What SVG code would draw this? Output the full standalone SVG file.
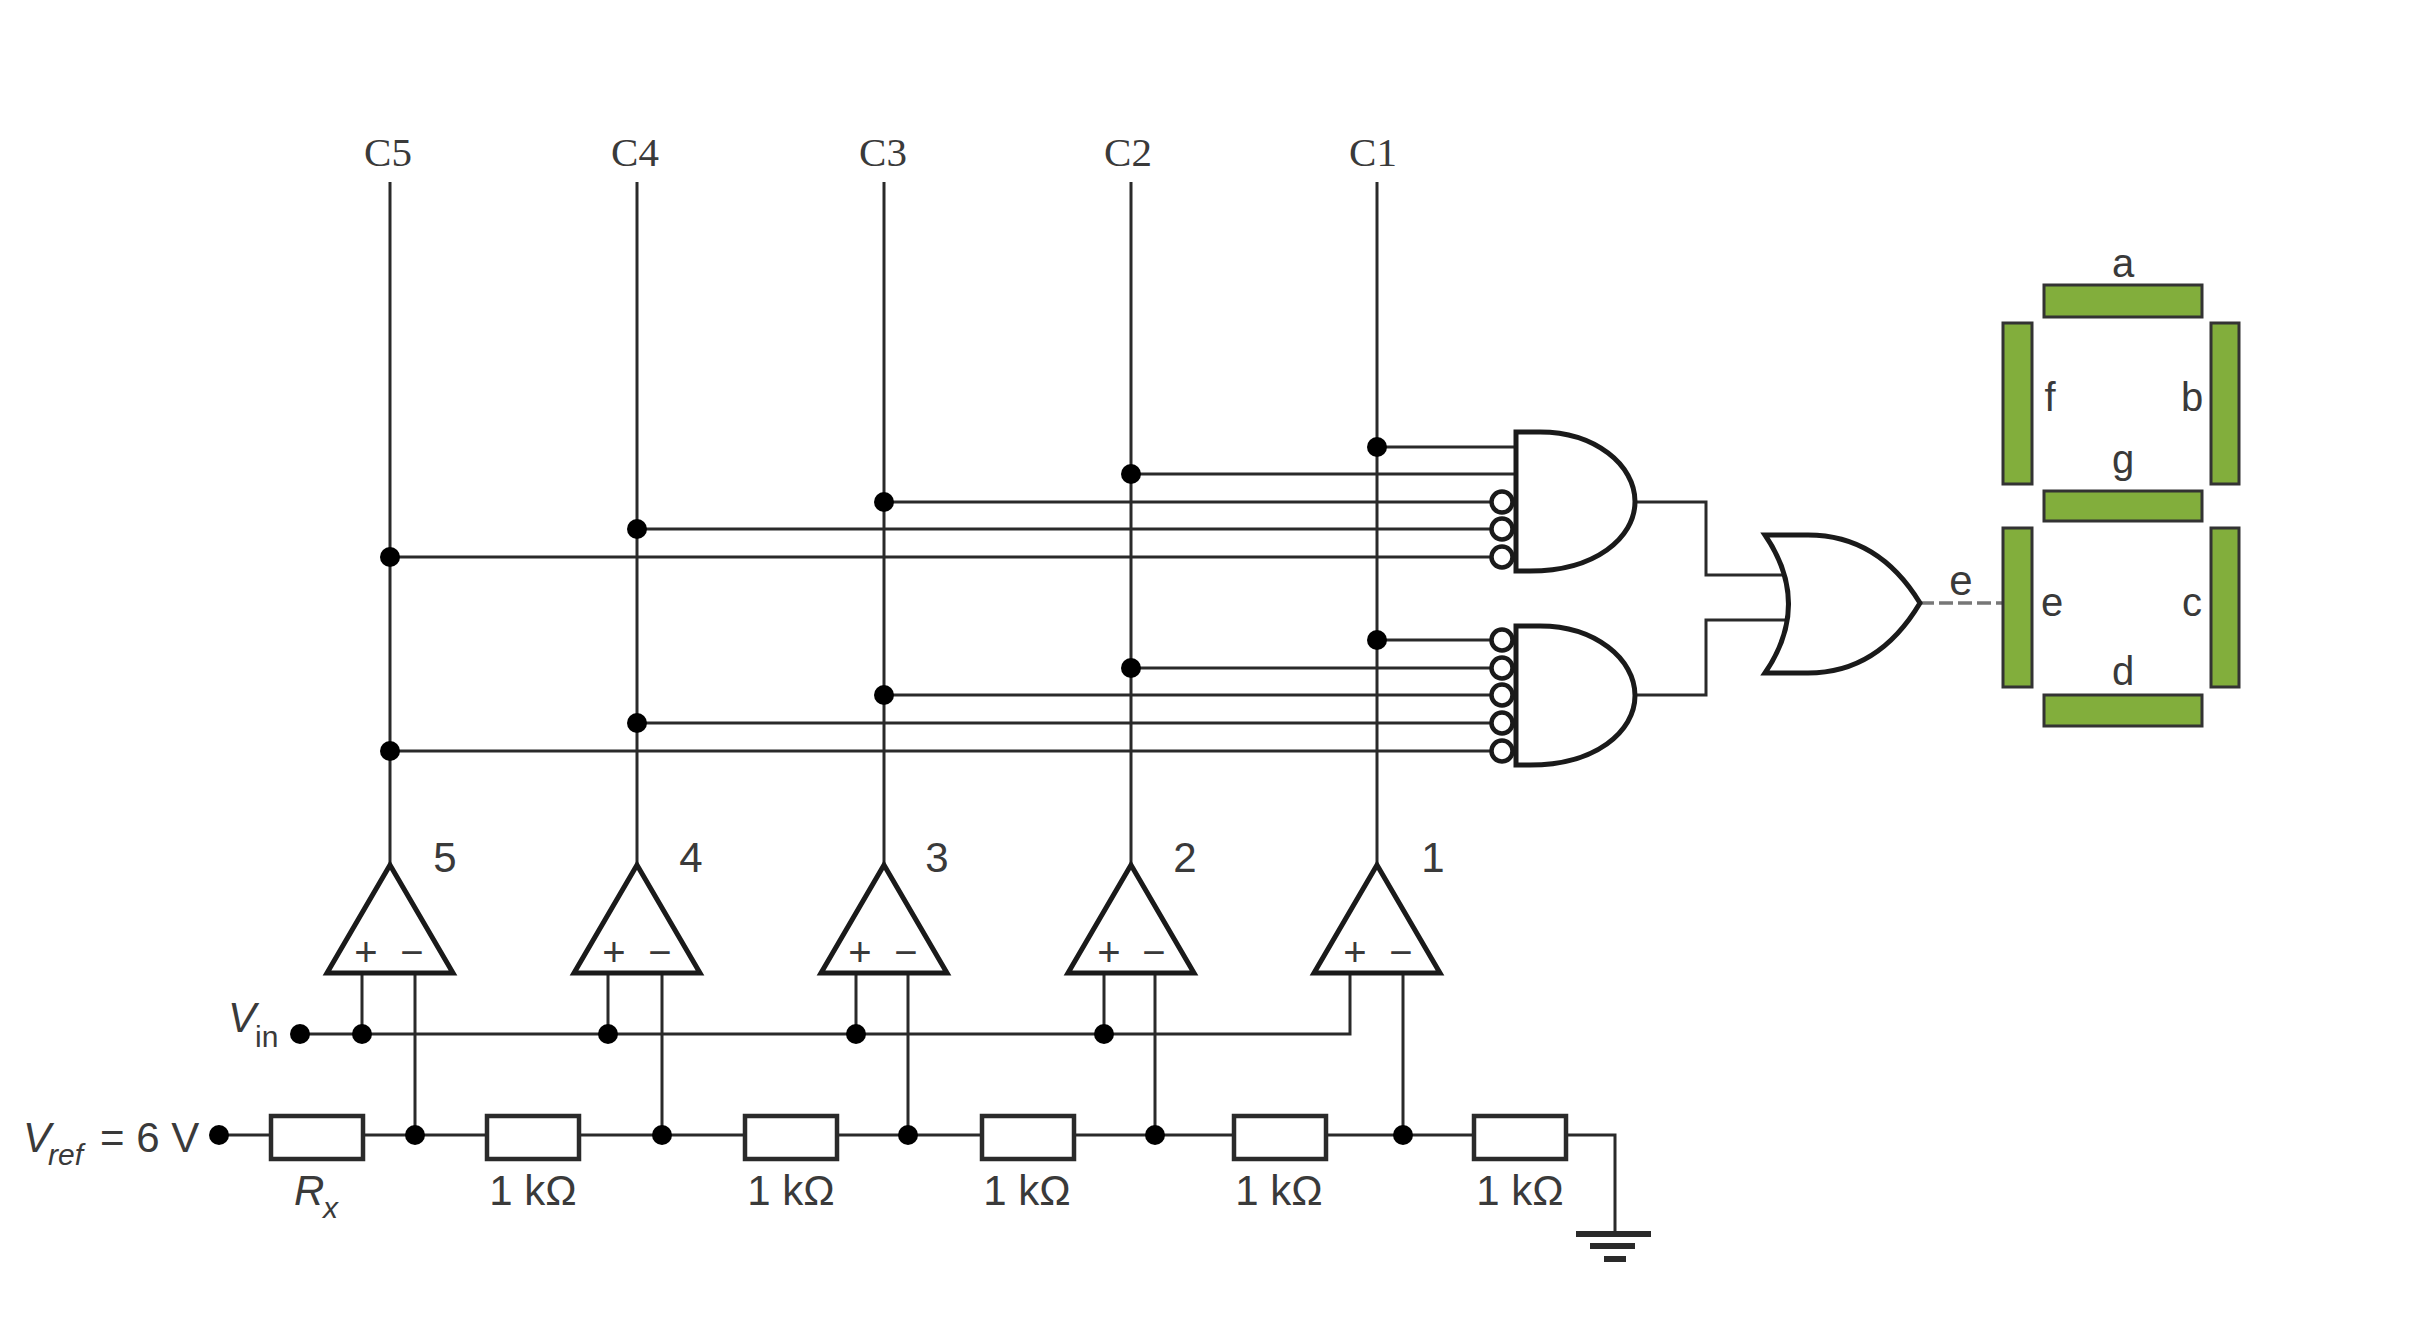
<svg xmlns="http://www.w3.org/2000/svg" width="2420" height="1332" viewBox="0 0 2420 1332">
<style>
.w{fill:none;stroke:#2a2a2a;stroke-width:3}
.g{fill:#fff;stroke:#1a1a1a;stroke-width:5;stroke-linejoin:miter}
.r{fill:#fff;stroke:#2a2a2a;stroke-width:4.500}
.b{fill:#fff;stroke:#1a1a1a;stroke-width:4.500}
.d{fill:#000}
.s{fill:#82ae3c;stroke:#333;stroke-width:3}
text{font-family:"Liberation Sans",Arial,sans-serif;font-size:42px;fill:#3a3a3a;text-anchor:middle}
.c{font-family:"Liberation Serif","Times New Roman",serif;font-size:41px}
.i{font-style:italic}
.l{text-anchor:start}
.sm{font-size:30px}
.sg{font-size:40px}
.sign{font-size:40px}
</style>
<defs>
<path id="andShape" class="g" d="M0 0H24C79 0 119 33 119 69.500C119 106 79 139 14 139H0Z"/>
<circle id="bub" class="b" r="10.500"/>
<circle id="dot" class="d" r="10"/>
<rect id="res" class="r" x="0" y="0" width="92" height="43"/>
<polygon id="tri" class="g" points="0,-108 63,0 -63,0"/>
</defs>
<g id="connectors">
<path class="w" d="M390 182V865M637 182V865M884 182V865M1131 182V865M1377 182V865"/>
<path class="w" d="M1377 447H1516M1131 474H1516M884 502H1492M637 529H1492M390 557H1492"/>
<path class="w" d="M1377 640H1492M1131 668H1492M884 695H1492M637 723H1492M390 751H1492"/>
<path class="w" d="M1635 502H1706V575H1784M1635 695H1706V620H1787"/>
<path class="w" style="stroke:#777;stroke-width:3.500;stroke-dasharray:14 5" d="M1920 603H2003"/>
<path class="w" d="M300 1034H1350V973M362 1034V973M608 1034V973M856 1034V973M1104 1034V973"/>
<path class="w" d="M415 973V1135M662 973V1135M908 973V1135M1155 973V1135M1403 973V1135"/>
<path class="w" d="M219 1135H1615V1232"/>
<use href="#dot" x="1377" y="447"/><use href="#dot" x="1131" y="474"/><use href="#dot" x="884" y="502"/><use href="#dot" x="637" y="529"/><use href="#dot" x="390" y="557"/>
<use href="#dot" x="1377" y="640"/><use href="#dot" x="1131" y="668"/><use href="#dot" x="884" y="695"/><use href="#dot" x="637" y="723"/><use href="#dot" x="390" y="751"/>
<use href="#dot" x="300" y="1034"/><use href="#dot" x="362" y="1034"/><use href="#dot" x="608" y="1034"/><use href="#dot" x="856" y="1034"/><use href="#dot" x="1104" y="1034"/>
<use href="#dot" x="219" y="1135"/><use href="#dot" x="415" y="1135"/><use href="#dot" x="662" y="1135"/><use href="#dot" x="908" y="1135"/><use href="#dot" x="1155" y="1135"/><use href="#dot" x="1403" y="1135"/>
</g>
<g id="col-labels">
<text class="c" x="388" y="166">C5</text>
<text class="c" x="635" y="166">C4</text>
<text class="c" x="883" y="166">C3</text>
<text class="c" x="1128" y="166">C2</text>
<text class="c" x="1373" y="166">C1</text>
</g>
<g id="and-1">
<use href="#andShape" x="1516" y="432"/>
<use href="#bub" x="1502" y="502"/><use href="#bub" x="1502" y="529"/><use href="#bub" x="1502" y="557"/>
</g>
<g id="and-2">
<use href="#andShape" x="1516" y="626"/>
<use href="#bub" x="1502" y="640"/><use href="#bub" x="1502" y="668"/><use href="#bub" x="1502" y="695"/><use href="#bub" x="1502" y="723"/><use href="#bub" x="1502" y="751"/>
</g>
<g id="or-gate">
<path class="g" d="M1765 535H1808C1860 535 1895 562 1920 603C1895 645 1860 673 1808 673H1765Q1812 604 1765 535Z"/>
<text x="1961" y="595">e</text>
</g>
<g id="comp-5"><use href="#tri" x="390" y="973"/><text class="sign" x="366" y="966">+</text><text class="sign" x="412" y="966">−</text><text x="445" y="872">5</text></g>
<g id="comp-4"><use href="#tri" x="637" y="973"/><text class="sign" x="614" y="966">+</text><text class="sign" x="660" y="966">−</text><text x="691" y="872">4</text></g>
<g id="comp-3"><use href="#tri" x="884" y="973"/><text class="sign" x="860" y="966">+</text><text class="sign" x="906" y="966">−</text><text x="937" y="872">3</text></g>
<g id="comp-2"><use href="#tri" x="1131" y="973"/><text class="sign" x="1109" y="966">+</text><text class="sign" x="1154" y="966">−</text><text x="1185" y="872">2</text></g>
<g id="comp-1"><use href="#tri" x="1377" y="973"/><text class="sign" x="1355" y="966">+</text><text class="sign" x="1401" y="966">−</text><text x="1433" y="872">1</text></g>
<g id="r-x"><use href="#res" x="271" y="1116"/><text class="i l" x="294" y="1205">R</text><text class="i l sm" x="323" y="1218">x</text></g>
<g id="r-1"><use href="#res" x="487" y="1116"/><text x="533" y="1205">1 kΩ</text></g>
<g id="r-2"><use href="#res" x="745" y="1116"/><text x="791" y="1205">1 kΩ</text></g>
<g id="r-3"><use href="#res" x="982" y="1116"/><text x="1027" y="1205">1 kΩ</text></g>
<g id="r-4"><use href="#res" x="1234" y="1116"/><text x="1279" y="1205">1 kΩ</text></g>
<g id="r-5"><use href="#res" x="1474" y="1116"/><text x="1520" y="1205">1 kΩ</text></g>
<g id="ground">
<path style="fill:none;stroke:#2a2a2a;stroke-width:6" d="M1576 1234H1651M1590 1246H1635M1604 1259H1626"/>
</g>
<g id="vin"><text class="i l" x="228" y="1032">V</text><text class="sm l" x="255" y="1047">in</text></g>
<g id="vref"><text class="i l" x="23" y="1152">V</text><text class="i sm l" x="48" y="1165">ref</text><text class="l" x="100" y="1152">= 6 V</text></g>
<g id="seven-seg">
<rect id="seg-a" class="s" x="2044" y="285" width="158" height="32"/>
<rect id="seg-f" class="s" x="2003" y="323" width="29" height="161"/>
<rect id="seg-b" class="s" x="2211" y="323" width="28" height="161"/>
<rect id="seg-g" class="s" x="2044" y="491" width="158" height="30"/>
<rect id="seg-e" class="s" x="2003" y="528" width="29" height="159"/>
<rect id="seg-c" class="s" x="2211" y="528" width="28" height="159"/>
<rect id="seg-d" class="s" x="2044" y="695" width="158" height="31"/>
<text class="sg" x="2123" y="277">a</text>
<text class="sg" x="2050" y="411">f</text>
<text class="sg" x="2192" y="411">b</text>
<text class="sg" x="2123" y="473">g</text>
<text class="sg" x="2052" y="616">e</text>
<text class="sg" x="2192" y="616">c</text>
<text class="sg" x="2123" y="685">d</text>
</g>
</svg>
